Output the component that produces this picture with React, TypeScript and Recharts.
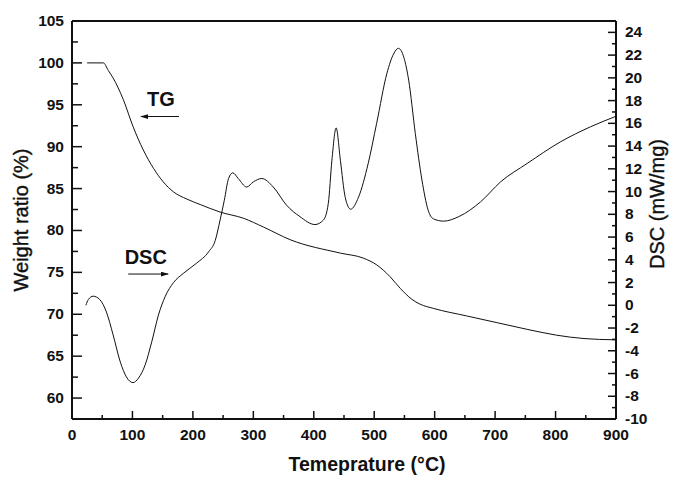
import {
  ComposedChart,
  Line,
  XAxis,
  YAxis,
  ReferenceLine,
  ReferenceDot,
} from "recharts";

const tgTemps = [25, 52, 60, 68, 85, 101, 118, 135, 151, 168, 190, 212, 245, 284, 317, 361, 444, 482, 504, 526, 543, 562, 576, 598, 653, 703, 753, 802, 847, 899];
const tgWeights = [100, 100, 99.1, 98.2, 95.6, 92.4, 89.6, 87.4, 85.8, 84.6, 83.75, 83.1, 82.2, 81.45, 80.4, 78.9, 77.3, 76.7, 75.9, 74.5, 73.1, 71.8, 71.2, 70.7, 69.8, 69, 68.2, 67.5, 67.1, 66.95];

const dscTemps = [23, 27, 35, 46, 57, 68, 80, 90, 101, 110, 121, 132, 143, 154, 168, 184, 206, 226, 237, 245, 252, 259, 266, 275, 289, 300, 314, 333, 355, 377, 402, 416, 424, 430, 437, 444, 452, 461, 474, 490, 504, 521, 532, 540, 549, 557, 568, 579, 589, 598, 615, 640, 676, 709, 753, 808, 858, 899];
const dscValues = [0, 0.5, 0.8, 0.5, -0.6, -2.6, -5, -6.3, -6.8, -6.4, -5.25, -3.2, -0.86, 0.75, 2, 2.8, 3.7, 4.7, 5.7, 7.5, 9.24, 11.15, 11.65, 11.15, 10.4, 10.85, 11.15, 10.4, 8.8, 7.8, 7.1, 7.5, 8.95, 12.76, 15.6, 12.76, 9.5, 8.45, 9.5, 12.47, 16, 20.4, 22.1, 22.6, 21.8, 19.8, 15.1, 11, 8.4, 7.6, 7.4, 7.8, 9.1, 10.85, 12.47, 14.37, 15.7, 16.6];

const tempTicks = [0, 50, 100, 150, 200, 250, 300, 350, 400, 450, 500, 550, 600, 650, 700, 750, 800, 850, 900];
const weightTicks = [57.5, 60, 62.5, 65, 67.5, 70, 72.5, 75, 77.5, 80, 82.5, 85, 87.5, 90, 92.5, 95, 97.5, 100, 102.5, 105];
const dscTicks = [-10, -9, -8, -7, -6, -5, -4, -3, -2, -1, 0, 1, 2, 3, 4, 5, 6, 7, 8, 9, 10, 11, 12, 13, 14, 15, 16, 17, 18, 19, 20, 21, 22, 23, 24, 25];

const tgArrow = [{ t: 177, w: 93.6 }, { t: 114, w: 93.6 }];
const dscArrow = [{ t: 93, w: 74.8 }, { t: 159, w: 74.8 }];

const tgRows = tgTemps.map((t, i) => ({ t, w: tgWeights[i] }));
const dscRows = dscTemps.map((t, i) => ({ t, d: dscValues[i] }));

const INK = "#111";
const FONT = "'Liberation Sans', Arial, sans-serif";

const tickText = { fontFamily: FONT, fontSize: 15.5, fontWeight: 700, fill: INK };

const BottomTick = ({ x, y, payload }: any) => {
  const major = payload.value % 100 === 0;
  return (
    <g>
      <line x1={x} x2={x} y1={y} y2={y - (major ? 8 : 4)} stroke={INK} strokeWidth={1.5} />
      {major && (
        <text x={x} y={y + 21} textAnchor="middle" {...tickText}>
          {payload.value}
        </text>
      )}
    </g>
  );
};

const LeftTick = ({ x, y, payload }: any) => {
  const major = payload.value % 5 === 0;
  return (
    <g>
      <line x1={x} x2={x + (major ? 10 : 6)} y1={y} y2={y} stroke={INK} strokeWidth={1.5} />
      {major && (
        <text x={x - 8} y={y + 5} textAnchor="end" {...tickText}>
          {payload.value}
        </text>
      )}
    </g>
  );
};

const RightTick = ({ x, y, payload }: any) => {
  const major = payload.value % 2 === 0;
  return (
    <g>
      <line x1={x} x2={x - (major ? 8 : 4)} y1={y} y2={y} stroke={INK} strokeWidth={1.5} />
      {major && (
        <text x={x + 9} y={y + 5} textAnchor="start" {...tickText}>
          {payload.value}
        </text>
      )}
    </g>
  );
};

const xTitleStyle = { fontFamily: FONT, fontSize: 19.5, fontWeight: 700, fill: INK };
const yTitleStyle = { fontFamily: FONT, fontSize: 20, fontWeight: 400, fill: INK, stroke: INK, strokeWidth: 0.4, textAnchor: "middle" };
const noteStyle = { fontFamily: FONT, fontSize: 20, fontWeight: 700, fill: INK };

const App = () => {
  return (
    <div style={{ position: "absolute", left: 0, top: 0, width: 675, height: 483, background: "#fff" }}>
      <ComposedChart width={675} height={483} margin={{ top: 21, right: 0, bottom: 0, left: 0 }}>
        <defs>
          <marker id="head" viewBox="0 0 10 6" refX="9" refY="3" markerWidth="8" markerHeight="5" markerUnits="userSpaceOnUse" orient="auto">
            <path d="M0 0 L10 3 L0 6 Z" fill={INK} />
          </marker>
        </defs>
        <XAxis
          xAxisId="temp"
          dataKey="t"
          type="number"
          domain={[0, 900]}
          ticks={tempTicks}
          interval={0}
          height={64}
          tickSize={0}
          tickMargin={0}
          tick={BottomTick}
          axisLine={{ stroke: INK, strokeWidth: 2 }}
          label={{ value: "Temeprature (°C)", position: "insideTop", offset: 38, dx: 23, style: xTitleStyle }}
        />
        <YAxis
          yAxisId="weight"
          type="number"
          domain={[57.5, 105]}
          ticks={weightTicks}
          interval={0}
          width={72}
          tickSize={0}
          tickMargin={0}
          tick={LeftTick}
          axisLine={{ stroke: INK, strokeWidth: 2 }}
          label={{ value: "Weight ratio (%)", angle: -90, position: "insideLeft", offset: 21, style: yTitleStyle }}
        />
        <YAxis
          yAxisId="dsc"
          orientation="right"
          type="number"
          domain={[-10, 25]}
          ticks={dscTicks}
          interval={0}
          width={59}
          tickSize={0}
          tickMargin={0}
          tick={RightTick}
          axisLine={{ stroke: INK, strokeWidth: 2 }}
          label={{ value: "DSC (mW/mg)", angle: -90, position: "insideRight", offset: 18, dy: -16, style: yTitleStyle }}
        />
        <ReferenceLine xAxisId="temp" yAxisId="weight" y={105} stroke={INK} strokeWidth={2} />
        <Line xAxisId="temp" yAxisId="weight" data={tgRows} dataKey="w" type="monotone" stroke={INK} strokeWidth={1} dot={false} activeDot={false} isAnimationActive={false} />
        <Line xAxisId="temp" yAxisId="dsc" data={dscRows} dataKey="d" type="monotone" stroke={INK} strokeWidth={1} dot={false} activeDot={false} isAnimationActive={false} />
        <Line xAxisId="temp" yAxisId="weight" data={tgArrow} dataKey="w" stroke={INK} strokeWidth={1} dot={false} activeDot={false} markerEnd="url(#head)" isAnimationActive={false} />
        <Line xAxisId="temp" yAxisId="weight" data={dscArrow} dataKey="w" stroke={INK} strokeWidth={1} dot={false} activeDot={false} markerEnd="url(#head)" isAnimationActive={false} />
        <ReferenceDot xAxisId="temp" yAxisId="weight" x={147} y={95.7} r={0} stroke="none" label={{ value: "TG", position: "center", style: noteStyle }} />
        <ReferenceDot xAxisId="temp" yAxisId="weight" x={122} y={76.8} r={0} stroke="none" label={{ value: "DSC", position: "center", style: noteStyle }} />
      </ComposedChart>
    </div>
  );
};

export default App;
